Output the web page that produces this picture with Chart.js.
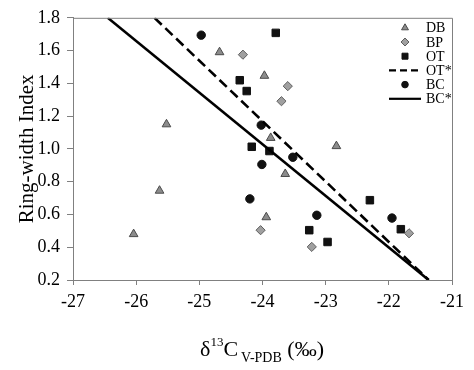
<!DOCTYPE html>
<html>
<head>
<meta charset="utf-8">
<script src="https://cdn.jsdelivr.net/npm/chart.js@4/dist/chart.umd.min.js"></script>
<style>
  html, body { margin: 0; padding: 0; background: #fff; }
  #wrap { position: relative; width: 474px; height: 370px; }
  #xtitle {
    position: absolute; left: 72px; width: 380px; top: 338px;
    text-align: center; font-family: "Liberation Serif", "Times New Roman", serif;
    font-size: 22px; line-height: 22px; color: #000; white-space: nowrap;
  }
  #xtitle .sup { position: relative; top: -10px; font-size: 13px; }
  #xtitle .sub { position: relative; top: 6px; font-size: 14px; margin-left: 3px; }
</style>
</head>
<body>
<div id="wrap">
  <canvas id="c" width="474" height="370"></canvas>
  <div id="xtitle">δ<span class="sup">13</span>C<span class="sub">V-PDB</span> (‰)</div>
</div>
<script>
// ---- data ----
const dbX = [-26.04, -25.63, -25.52, -24.68, -23.97, -23.87, -23.64, -23.94, -22.83];
const dbY = [0.48, 0.745, 1.15, 1.59, 1.446, 1.067, 0.847, 0.583, 1.017];
const bpX = [-24.31, -23.60, -23.70, -24.03, -23.22, -21.68];
const bpY = [1.575, 1.383, 1.291, 0.504, 0.402, 0.485];
const otX = [-23.79, -24.36, -24.25, -24.17, -23.89, -22.30, -23.26, -22.97, -21.81];
const otY = [1.708, 1.419, 1.353, 1.013, 0.987, 0.687, 0.504, 0.432, 0.51];
const bcX = [-24.97, -24.02, -24.01, -23.52, -24.20, -23.14, -21.95];
const bcY = [1.694, 1.145, 0.905, 0.949, 0.695, 0.595, 0.578];
const otFitX = [-25.71, -21.37];
const otFitY = [1.8, 0.2];
const bcFitX = [-26.45, -21.37];
const bcFitY = [1.8, 0.2];
const seriesNames = ['DB', 'BP', 'OT', 'OT*', 'BC', 'BC*'];
const xMin = -27, xMax = -21, xStep = 1;
const yMin = 0.2, yMax = 1.8, yStep = 0.2;
const xTitle = 'δ13C V-PDB (‰)';
const yTitle = 'Ring-width Index';

const pts = (xs, ys) => xs.map((x, i) => ({ x: x, y: ys[i] }));
const SERIF = '"Liberation Serif", "Times New Roman", serif';
const AXIS = '#808080';

const styles = {
  DB: { pointStyle: 'triangle', radius: 5, bg: '#8c8c8c', border: '#4a4a4a' },
  BP: { pointStyle: 'rectRot', radius: 4.6, bg: '#a0a0a0', border: '#5e5e5e' },
  OT: { pointStyle: 'rect', radius: 5.3, bg: '#111111', border: '#111111' },
  BC: { pointStyle: 'circle', radius: 4.2, bg: '#111111', border: '#111111' }
};

function scatterSet(name, xs, ys) {
  const s = styles[name];
  return {
    type: 'scatter', label: name, data: pts(xs, ys),
    pointStyle: s.pointStyle, pointRadius: s.radius,
    backgroundColor: s.bg, borderColor: s.border, borderWidth: 1
  };
}
function lineSet(name, xs, ys, dash) {
  return {
    type: 'line', label: name, data: pts(xs, ys),
    borderColor: '#000', borderWidth: 2.6, borderDash: dash,
    pointRadius: 0, fill: false, tension: 0
  };
}

// custom legend + frame
const framePlugin = {
  id: 'frameLegend',
  afterDraw(chart) {
    const { ctx, chartArea: a } = chart;
    ctx.save();
    ctx.strokeStyle = AXIS; ctx.lineWidth = 1;
    ctx.beginPath();
    ctx.moveTo(a.left, a.top + 0.5);
    ctx.lineTo(Math.round(a.right) + 0.5, a.top + 0.5);
    ctx.lineTo(Math.round(a.right) + 0.5, a.bottom);
    ctx.stroke();

    const mx = a.right - 47, tx = a.right - 26;
    ctx.font = '14px ' + SERIF;
    ctx.fillStyle = '#000';
    ctx.textBaseline = 'middle';
    ctx.textAlign = 'left';
    seriesNames.forEach((name, i) => {
      const y = a.top + 10 + i * 14.2;
      ctx.fillText(name, tx, y + 1);
      if (name === 'OT*' || name === 'BC*') {
        ctx.save();
        ctx.strokeStyle = '#000'; ctx.lineWidth = 2.2;
        ctx.setLineDash(name === 'OT*' ? [7, 4] : []);
        ctx.beginPath(); ctx.moveTo(a.right - 63, y); ctx.lineTo(a.right - 31, y); ctx.stroke();
        ctx.restore();
        return;
      }
      const s = styles[name];
      ctx.save();
      ctx.fillStyle = s.bg; ctx.strokeStyle = s.border; ctx.lineWidth = 1;
      ctx.beginPath();
      if (name === 'DB') {
        const r = 4;
        ctx.moveTo(mx, y - r); ctx.lineTo(mx + r * 0.866, y + r / 2); ctx.lineTo(mx - r * 0.866, y + r / 2); ctx.closePath();
      } else if (name === 'BP') {
        const r = 4;
        ctx.moveTo(mx, y - r); ctx.lineTo(mx + r, y); ctx.lineTo(mx, y + r); ctx.lineTo(mx - r, y); ctx.closePath();
      } else if (name === 'OT') {
        ctx.rect(mx - 3, y - 3, 6, 6);
      } else {
        ctx.arc(mx, y, 3.3, 0, Math.PI * 2);
      }
      ctx.fill(); ctx.stroke();
      ctx.restore();
    });
    ctx.restore();
  }
};

new Chart(document.getElementById('c'), {
  data: {
    datasets: [
      lineSet('OT*', otFitX, otFitY, [10, 5]),
      lineSet('BC*', bcFitX, bcFitY, []),
      scatterSet('DB', dbX, dbY),
      scatterSet('BP', bpX, bpY),
      scatterSet('OT', otX, otY),
      scatterSet('BC', bcX, bcY)
    ]
  },
  options: {
    responsive: false, animation: false, devicePixelRatio: 1,
    layout: { padding: { top: 13, right: 22, left: 0, bottom: 0 } },
    plugins: { legend: { display: false }, tooltip: { enabled: false } },
    scales: {
      x: {
        type: 'linear', min: xMin, max: xMax,
        ticks: { stepSize: xStep, color: '#000', font: { family: SERIF, size: 18 }, padding: 6,
                 callback: v => String(v) },
        grid: { drawOnChartArea: false, drawTicks: true, tickLength: 5, color: AXIS },
        border: { color: AXIS },
        title: { display: false, text: xTitle },
        afterFit: s => { s.height = 90; }
      },
      y: {
        type: 'linear', min: yMin, max: yMax,
        ticks: { stepSize: yStep, color: '#000', font: { family: SERIF, size: 18 }, padding: 7,
                 callback: v => v.toFixed(1) },
        grid: { drawOnChartArea: false, drawTicks: true, tickLength: 6, color: AXIS },
        border: { color: AXIS },
        title: { display: true, text: yTitle, color: '#000', font: { family: SERIF, size: 21 },
                 padding: { top: 15, bottom: 0 } },
        afterFit: s => { s.width = 73; }
      }
    }
  },
  plugins: [framePlugin]
});
</script>
</body>
</html>
